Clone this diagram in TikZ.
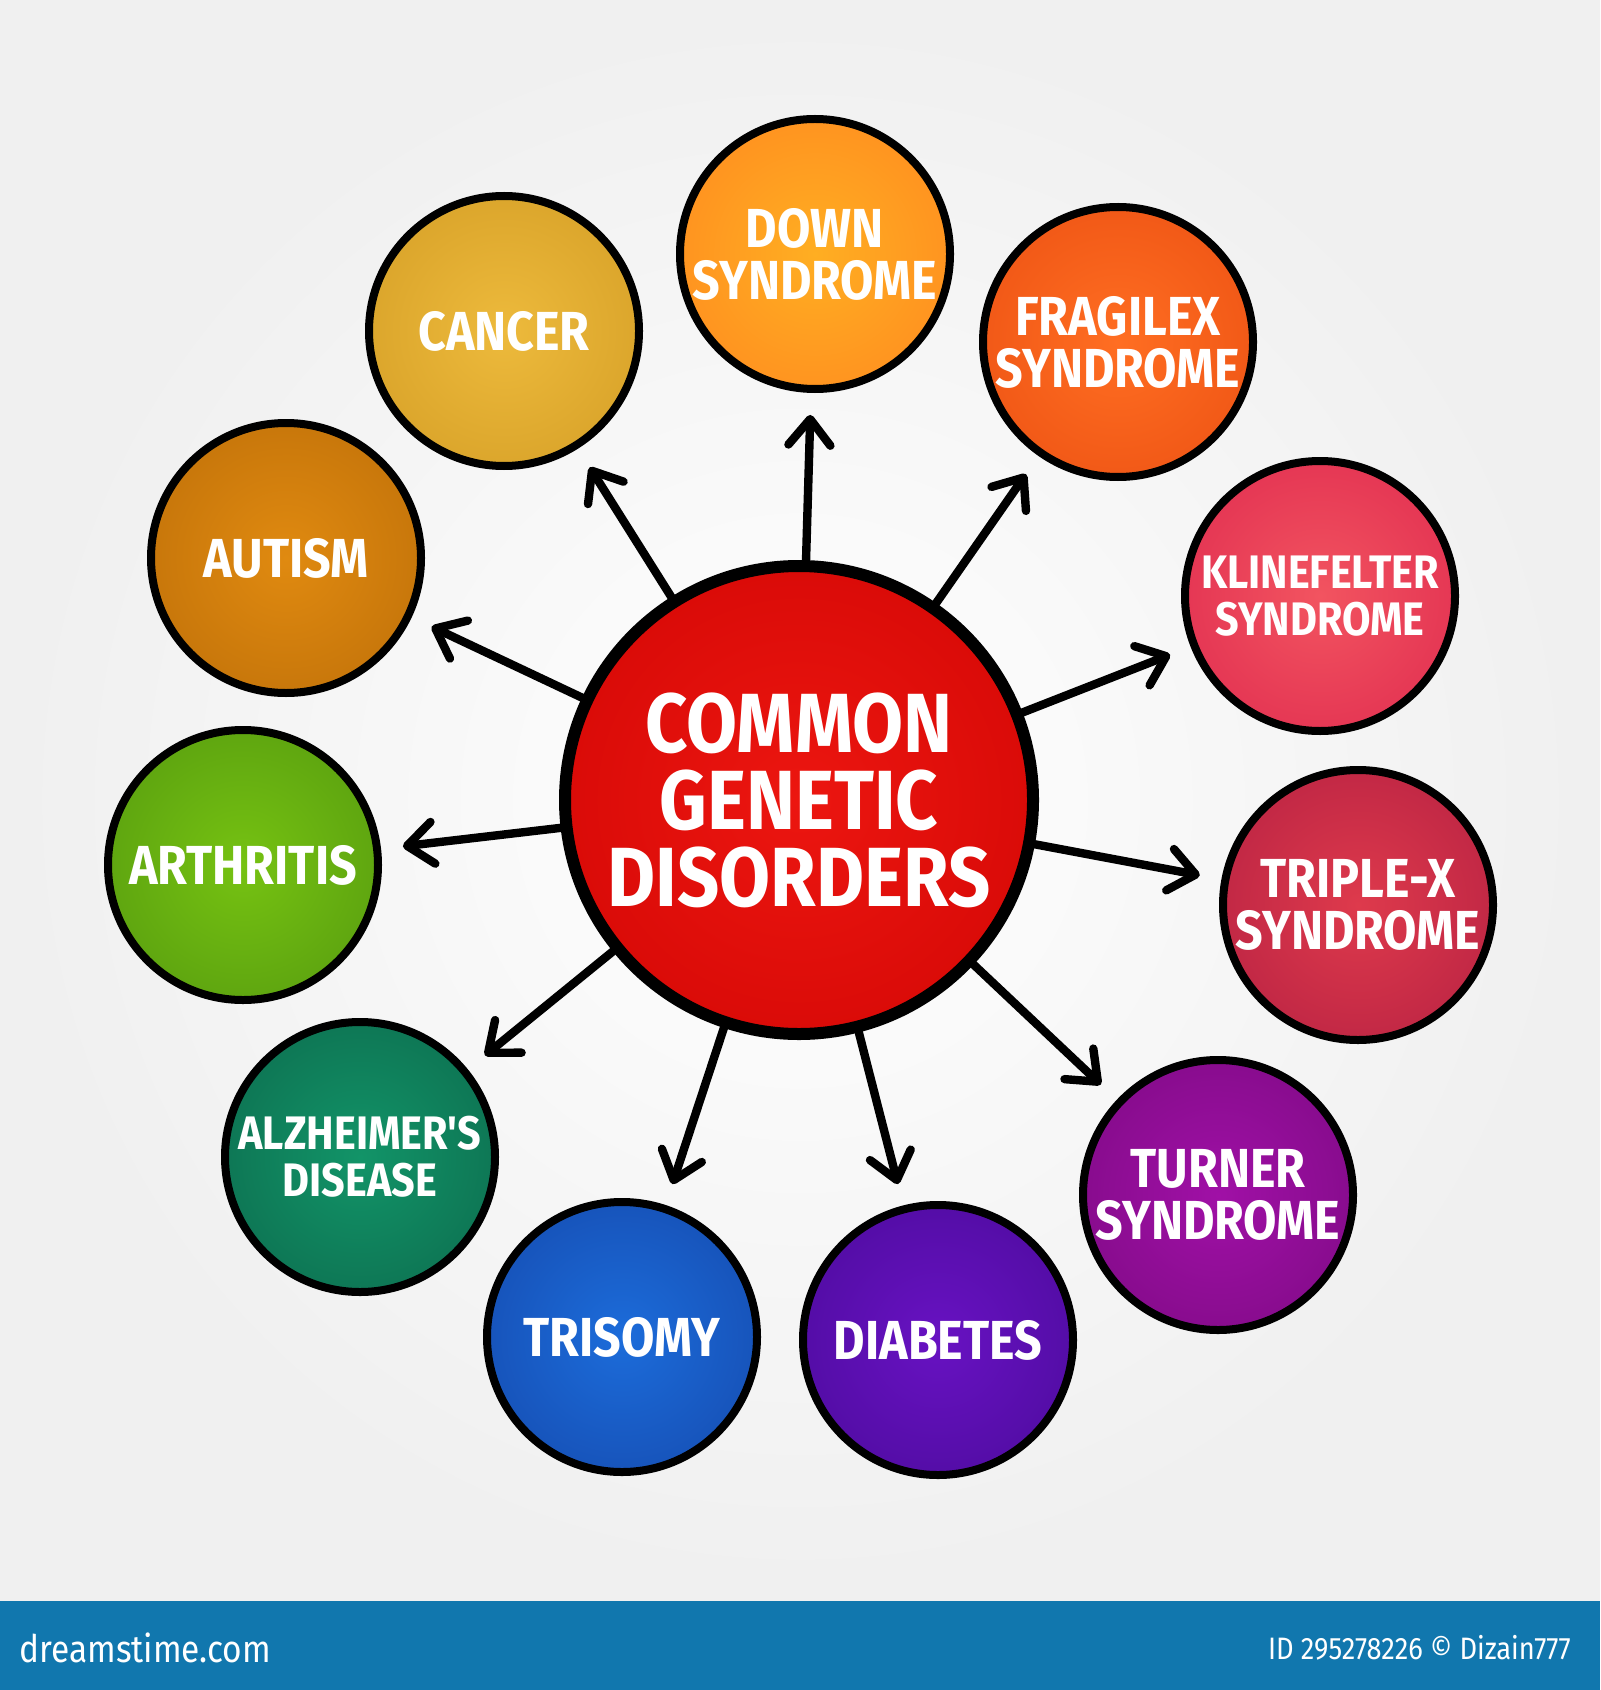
\documentclass[tikz,border=0pt]{standalone}
\usepackage{fontspec}
\usepackage{tikz}
\usetikzlibrary{positioning}
\usetikzlibrary{arrows.meta}
\newfontfamily\markfont{Fira Sans}[FakeStretch=0.88]
\definecolor{barblue}{HTML}{1177AE}
\colorlet{bubin}{white}
\colorlet{bubout}{black}
\pgfdeclareradialshading[bubin,bubout]{bubble}{\pgfpoint{0bp}{0bp}}{color(0bp)=(bubin); color(50bp)=(bubout)}

\begin{document}
\begin{tikzpicture}[x=0.5pt, y=-0.5pt,
                    bub/.code 2 args={\definecolor{bubin}{HTML}{#1}\definecolor{bubout}{HTML}{#2}},
                    hub/.style={circle, draw=black, line width=6pt, minimum size=234pt, inner sep=0pt, shading=bubble, bub={EC1610}{C80000}, text=white, align=center, font=\markfont\bfseries\fontsize{42}{38.5}\selectfont},
                    leaf/.style={circle, draw=black, line width=4pt, minimum size=135pt, inner sep=0pt, shading=bubble, text=white, align=center, font=\markfont\bfseries\fontsize{27.5}{26}\selectfont},
                    small/.style={font=\markfont\bfseries\fontsize{23.5}{23.5}\selectfont},
                    arr/.style={line width=4.2pt, line cap=round, -{Straight Barb[length=13pt, width=21pt, round]}, shorten >=11pt}]
\useasboundingbox (0,0) rectangle (1600,1690);
\shade[inner color=white, outer color=black!6] (0,0) rectangle (1600,1601);
\node (core) [hub] at (799,800) {COMMON\\GENETIC\\DISORDERS};
\node (down) [leaf, bub={FFAE22}{FF7A1E}] at (815,254) {DOWN\\SYNDROME};
\node (cancer) [leaf, bub={EDBA3C}{CA921C}] at (504,331) {CANCER};
\node (fragilex) [leaf, bub={FF6E22}{E4440C}] at (1118,342) {FRAGILEX\\SYNDROME};
\node (klinefelter) [leaf, small, bub={F25460}{D81A48}] at (1320,596) {KLINEFELTER\\SYNDROME};
\node (triplex) [leaf, bub={DE3A4C}{A6163E}] at (1358,905) {TRIPLE-X\\SYNDROME};
\node (turner) [leaf, bub={A010A6}{700876}] at (1218,1195) {TURNER\\SYNDROME};
\node (diabetes) [leaf, bub={6812C2}{40088C}] at (938,1340) {DIABETES};
\node (trisomy) [leaf, bub={1C6CDA}{123C9C}] at (622,1337) {TRISOMY};
\node (alzheimer) [leaf, small, bub={129468}{0A5A42}] at (360,1157) {ALZHEIMER'S\\DISEASE};
\node (arthritis) [leaf, bub={76C212}{488A0E}] at (243,865) {ARTHRITIS};
\node (autism) [leaf, bub={E08A10}{B06406}] at (286,558) {AUTISM};
\draw[arr] (core) -- (cancer);
\draw[arr] (core) -- (down);
\draw[arr] (core) -- (fragilex);
\draw[arr] (core) -- (klinefelter);
\draw[arr] (core) -- (triplex);
\draw[arr] (core) -- (turner);
\draw[arr] (core) -- (diabetes);
\draw[arr] (core) -- (trisomy);
\draw[arr] (core) -- (alzheimer);
\draw[arr] (core) -- (arthritis);
\draw[arr] (core) -- (autism);
\fill[barblue] (0,1601) rectangle (1600,1690);
\node (site) [anchor=west, text=white, inner sep=0pt, font=\markfont\fontsize{19}{19}\selectfont] at (19,1648) {dreamstime.com};
\node (credit) [anchor=east, text=white, inner sep=0pt, font=\markfont\fontsize{15.5}{15.5}\selectfont] at (1571,1648) {ID 295278226 © Dizain777};
\end{tikzpicture}
\end{document}
